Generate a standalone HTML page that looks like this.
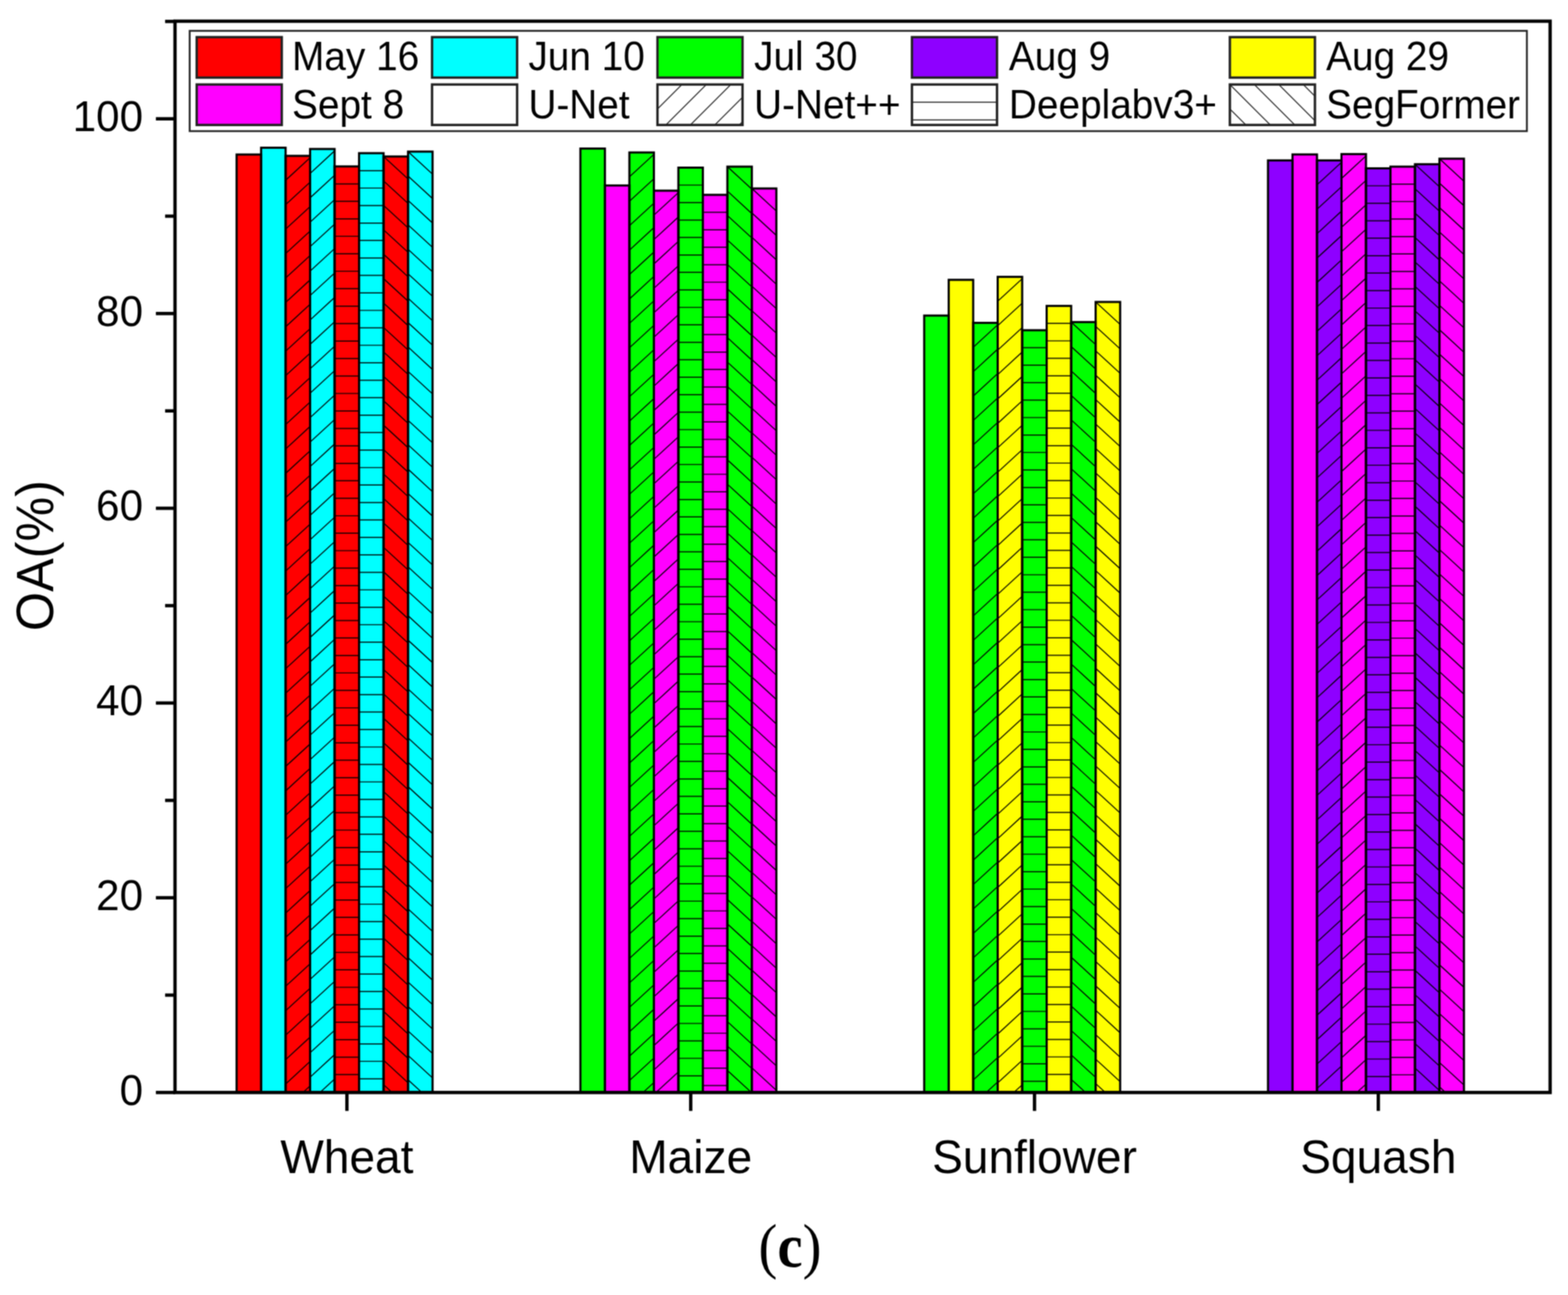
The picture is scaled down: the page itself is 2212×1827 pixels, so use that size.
<!DOCTYPE html>
<html><head><meta charset="utf-8"><title>OA chart</title>
<style>html,body{margin:0;padding:0;background:#fff;}svg{display:block;}</style>
</head><body>
<svg width="2212" height="1827" viewBox="0 0 2212 1827">
<defs><filter id="bl" x="0" y="0" width="2212" height="1827" filterUnits="userSpaceOnUse" color-interpolation-filters="sRGB"><feConvolveMatrix order="3" kernelMatrix="1 2 1 2 4 2 1 2 1" divisor="16" edgeMode="duplicate"/></filter></defs>
<g filter="url(#bl)">
<rect x="0" y="0" width="2212" height="1827" fill="#fff"/>
<rect x="333.80" y="218.00" width="34.55" height="1323.30" fill="#FF0000"/>
<rect x="368.35" y="208.40" width="34.55" height="1332.90" fill="#00FFFF"/>
<rect x="402.90" y="219.90" width="34.55" height="1321.40" fill="#FF0000"/>
<path d="M402.90 254.36L437.45 222.57M402.90 288.82L437.45 257.03M402.90 323.28L437.45 291.49M402.90 357.74L437.45 325.95M402.90 392.20L437.45 360.41M402.90 426.66L437.45 394.87M402.90 461.12L437.45 429.33M402.90 495.58L437.45 463.79M402.90 530.04L437.45 498.25M402.90 564.50L437.45 532.71M402.90 598.96L437.45 567.17M402.90 633.42L437.45 601.63M402.90 667.88L437.45 636.09M402.90 702.34L437.45 670.55M402.90 736.80L437.45 705.01M402.90 771.26L437.45 739.47M402.90 805.72L437.45 773.93M402.90 840.18L437.45 808.39M402.90 874.64L437.45 842.85M402.90 909.10L437.45 877.31M402.90 943.56L437.45 911.77M402.90 978.02L437.45 946.23M402.90 1012.48L437.45 980.69M402.90 1046.94L437.45 1015.15M402.90 1081.40L437.45 1049.61M402.90 1115.86L437.45 1084.07M402.90 1150.32L437.45 1118.53M402.90 1184.78L437.45 1152.99M402.90 1219.24L437.45 1187.45M402.90 1253.70L437.45 1221.91M402.90 1288.16L437.45 1256.37M402.90 1322.62L437.45 1290.83M402.90 1357.08L437.45 1325.29M402.90 1391.54L437.45 1359.75M402.90 1426.00L437.45 1394.21M402.90 1460.46L437.45 1428.67M402.90 1494.92L437.45 1463.13M402.90 1529.38L437.45 1497.59M427.40 1541.30L437.45 1532.05" stroke="#000" stroke-width="1.45" fill="none"/>
<rect x="437.45" y="210.20" width="34.55" height="1331.10" fill="#00FFFF"/>
<path d="M437.45 244.66L472.00 212.87M437.45 279.12L472.00 247.33M437.45 313.58L472.00 281.79M437.45 348.04L472.00 316.25M437.45 382.50L472.00 350.71M437.45 416.96L472.00 385.17M437.45 451.42L472.00 419.63M437.45 485.88L472.00 454.09M437.45 520.34L472.00 488.55M437.45 554.80L472.00 523.01M437.45 589.26L472.00 557.47M437.45 623.72L472.00 591.93M437.45 658.18L472.00 626.39M437.45 692.64L472.00 660.85M437.45 727.10L472.00 695.31M437.45 761.56L472.00 729.77M437.45 796.02L472.00 764.23M437.45 830.48L472.00 798.69M437.45 864.94L472.00 833.15M437.45 899.40L472.00 867.61M437.45 933.86L472.00 902.07M437.45 968.32L472.00 936.53M437.45 1002.78L472.00 970.99M437.45 1037.24L472.00 1005.45M437.45 1071.70L472.00 1039.91M437.45 1106.16L472.00 1074.37M437.45 1140.62L472.00 1108.83M437.45 1175.08L472.00 1143.29M437.45 1209.54L472.00 1177.75M437.45 1244.00L472.00 1212.21M437.45 1278.46L472.00 1246.67M437.45 1312.92L472.00 1281.13M437.45 1347.38L472.00 1315.59M437.45 1381.84L472.00 1350.05M437.45 1416.30L472.00 1384.51M437.45 1450.76L472.00 1418.97M437.45 1485.22L472.00 1453.43M437.45 1519.68L472.00 1487.89M451.41 1541.30L472.00 1522.35" stroke="#000" stroke-width="1.45" fill="none"/>
<rect x="472.00" y="234.80" width="34.55" height="1306.50" fill="#FF0000"/>
<path d="M472.00 259.44L506.55 259.44M472.00 284.08L506.55 284.08M472.00 308.72L506.55 308.72M472.00 333.36L506.55 333.36M472.00 358.00L506.55 358.00M472.00 382.64L506.55 382.64M472.00 407.28L506.55 407.28M472.00 431.92L506.55 431.92M472.00 456.56L506.55 456.56M472.00 481.20L506.55 481.20M472.00 505.84L506.55 505.84M472.00 530.48L506.55 530.48M472.00 555.12L506.55 555.12M472.00 579.76L506.55 579.76M472.00 604.40L506.55 604.40M472.00 629.04L506.55 629.04M472.00 653.68L506.55 653.68M472.00 678.32L506.55 678.32M472.00 702.96L506.55 702.96M472.00 727.60L506.55 727.60M472.00 752.24L506.55 752.24M472.00 776.88L506.55 776.88M472.00 801.52L506.55 801.52M472.00 826.16L506.55 826.16M472.00 850.80L506.55 850.80M472.00 875.44L506.55 875.44M472.00 900.08L506.55 900.08M472.00 924.72L506.55 924.72M472.00 949.36L506.55 949.36M472.00 974.00L506.55 974.00M472.00 998.64L506.55 998.64M472.00 1023.28L506.55 1023.28M472.00 1047.92L506.55 1047.92M472.00 1072.56L506.55 1072.56M472.00 1097.20L506.55 1097.20M472.00 1121.84L506.55 1121.84M472.00 1146.48L506.55 1146.48M472.00 1171.12L506.55 1171.12M472.00 1195.76L506.55 1195.76M472.00 1220.40L506.55 1220.40M472.00 1245.04L506.55 1245.04M472.00 1269.68L506.55 1269.68M472.00 1294.32L506.55 1294.32M472.00 1318.96L506.55 1318.96M472.00 1343.60L506.55 1343.60M472.00 1368.24L506.55 1368.24M472.00 1392.88L506.55 1392.88M472.00 1417.52L506.55 1417.52M472.00 1442.16L506.55 1442.16M472.00 1466.80L506.55 1466.80M472.00 1491.44L506.55 1491.44M472.00 1516.08L506.55 1516.08M472.00 1540.72L506.55 1540.72" stroke="#000" stroke-width="1.45" fill="none"/>
<rect x="506.55" y="216.10" width="34.55" height="1325.20" fill="#00FFFF"/>
<path d="M506.55 240.74L541.10 240.74M506.55 265.38L541.10 265.38M506.55 290.02L541.10 290.02M506.55 314.66L541.10 314.66M506.55 339.30L541.10 339.30M506.55 363.94L541.10 363.94M506.55 388.58L541.10 388.58M506.55 413.22L541.10 413.22M506.55 437.86L541.10 437.86M506.55 462.50L541.10 462.50M506.55 487.14L541.10 487.14M506.55 511.78L541.10 511.78M506.55 536.42L541.10 536.42M506.55 561.06L541.10 561.06M506.55 585.70L541.10 585.70M506.55 610.34L541.10 610.34M506.55 634.98L541.10 634.98M506.55 659.62L541.10 659.62M506.55 684.26L541.10 684.26M506.55 708.90L541.10 708.90M506.55 733.54L541.10 733.54M506.55 758.18L541.10 758.18M506.55 782.82L541.10 782.82M506.55 807.46L541.10 807.46M506.55 832.10L541.10 832.10M506.55 856.74L541.10 856.74M506.55 881.38L541.10 881.38M506.55 906.02L541.10 906.02M506.55 930.66L541.10 930.66M506.55 955.30L541.10 955.30M506.55 979.94L541.10 979.94M506.55 1004.58L541.10 1004.58M506.55 1029.22L541.10 1029.22M506.55 1053.86L541.10 1053.86M506.55 1078.50L541.10 1078.50M506.55 1103.14L541.10 1103.14M506.55 1127.78L541.10 1127.78M506.55 1152.42L541.10 1152.42M506.55 1177.06L541.10 1177.06M506.55 1201.70L541.10 1201.70M506.55 1226.34L541.10 1226.34M506.55 1250.98L541.10 1250.98M506.55 1275.62L541.10 1275.62M506.55 1300.26L541.10 1300.26M506.55 1324.90L541.10 1324.90M506.55 1349.54L541.10 1349.54M506.55 1374.18L541.10 1374.18M506.55 1398.82L541.10 1398.82M506.55 1423.46L541.10 1423.46M506.55 1448.10L541.10 1448.10M506.55 1472.74L541.10 1472.74M506.55 1497.38L541.10 1497.38M506.55 1522.02L541.10 1522.02" stroke="#000" stroke-width="1.45" fill="none"/>
<rect x="541.10" y="220.80" width="34.55" height="1320.50" fill="#FF0000"/>
<path d="M541.10 220.80L575.65 252.59M541.10 255.26L575.65 287.05M541.10 289.72L575.65 321.51M541.10 324.18L575.65 355.97M541.10 358.64L575.65 390.43M541.10 393.10L575.65 424.89M541.10 427.56L575.65 459.35M541.10 462.02L575.65 493.81M541.10 496.48L575.65 528.27M541.10 530.94L575.65 562.73M541.10 565.40L575.65 597.19M541.10 599.86L575.65 631.65M541.10 634.32L575.65 666.11M541.10 668.78L575.65 700.57M541.10 703.24L575.65 735.03M541.10 737.70L575.65 769.49M541.10 772.16L575.65 803.95M541.10 806.62L575.65 838.41M541.10 841.08L575.65 872.87M541.10 875.54L575.65 907.33M541.10 910.00L575.65 941.79M541.10 944.46L575.65 976.25M541.10 978.92L575.65 1010.71M541.10 1013.38L575.65 1045.17M541.10 1047.84L575.65 1079.63M541.10 1082.30L575.65 1114.09M541.10 1116.76L575.65 1148.55M541.10 1151.22L575.65 1183.01M541.10 1185.68L575.65 1217.47M541.10 1220.14L575.65 1251.93M541.10 1254.60L575.65 1286.39M541.10 1289.06L575.65 1320.85M541.10 1323.52L575.65 1355.31M541.10 1357.98L575.65 1389.77M541.10 1392.44L575.65 1424.23M541.10 1426.90L575.65 1458.69M541.10 1461.36L575.65 1493.15M541.10 1495.82L575.65 1527.61M541.10 1530.28L553.08 1541.30" stroke="#000" stroke-width="1.45" fill="none"/>
<rect x="575.65" y="213.90" width="34.55" height="1327.40" fill="#00FFFF"/>
<path d="M575.65 213.90L610.20 245.69M575.65 248.36L610.20 280.15M575.65 282.82L610.20 314.61M575.65 317.28L610.20 349.07M575.65 351.74L610.20 383.53M575.65 386.20L610.20 417.99M575.65 420.66L610.20 452.45M575.65 455.12L610.20 486.91M575.65 489.58L610.20 521.37M575.65 524.04L610.20 555.83M575.65 558.50L610.20 590.29M575.65 592.96L610.20 624.75M575.65 627.42L610.20 659.21M575.65 661.88L610.20 693.67M575.65 696.34L610.20 728.13M575.65 730.80L610.20 762.59M575.65 765.26L610.20 797.05M575.65 799.72L610.20 831.51M575.65 834.18L610.20 865.97M575.65 868.64L610.20 900.43M575.65 903.10L610.20 934.89M575.65 937.56L610.20 969.35M575.65 972.02L610.20 1003.81M575.65 1006.48L610.20 1038.27M575.65 1040.94L610.20 1072.73M575.65 1075.40L610.20 1107.19M575.65 1109.86L610.20 1141.65M575.65 1144.32L610.20 1176.11M575.65 1178.78L610.20 1210.57M575.65 1213.24L610.20 1245.03M575.65 1247.70L610.20 1279.49M575.65 1282.16L610.20 1313.95M575.65 1316.62L610.20 1348.41M575.65 1351.08L610.20 1382.87M575.65 1385.54L610.20 1417.33M575.65 1420.00L610.20 1451.79M575.65 1454.46L610.20 1486.25M575.65 1488.92L610.20 1520.71M575.65 1523.38L595.13 1541.30" stroke="#000" stroke-width="1.45" fill="none"/>
<rect x="333.80" y="218.00" width="34.55" height="1323.30" fill="none" stroke="#000" stroke-width="3.0"/>
<rect x="368.35" y="208.40" width="34.55" height="1332.90" fill="none" stroke="#000" stroke-width="3.0"/>
<rect x="402.90" y="219.90" width="34.55" height="1321.40" fill="none" stroke="#000" stroke-width="3.0"/>
<rect x="437.45" y="210.20" width="34.55" height="1331.10" fill="none" stroke="#000" stroke-width="3.0"/>
<rect x="472.00" y="234.80" width="34.55" height="1306.50" fill="none" stroke="#000" stroke-width="3.0"/>
<rect x="506.55" y="216.10" width="34.55" height="1325.20" fill="none" stroke="#000" stroke-width="3.0"/>
<rect x="541.10" y="220.80" width="34.55" height="1320.50" fill="none" stroke="#000" stroke-width="3.0"/>
<rect x="575.65" y="213.90" width="34.55" height="1327.40" fill="none" stroke="#000" stroke-width="3.0"/>
<rect x="818.80" y="209.60" width="34.55" height="1331.70" fill="#00FF00"/>
<rect x="853.35" y="261.70" width="34.55" height="1279.60" fill="#FF00FF"/>
<rect x="887.90" y="215.10" width="34.55" height="1326.20" fill="#00FF00"/>
<path d="M887.90 249.56L922.45 217.77M887.90 284.02L922.45 252.23M887.90 318.48L922.45 286.69M887.90 352.94L922.45 321.15M887.90 387.40L922.45 355.61M887.90 421.86L922.45 390.07M887.90 456.32L922.45 424.53M887.90 490.78L922.45 458.99M887.90 525.24L922.45 493.45M887.90 559.70L922.45 527.91M887.90 594.16L922.45 562.37M887.90 628.62L922.45 596.83M887.90 663.08L922.45 631.29M887.90 697.54L922.45 665.75M887.90 732.00L922.45 700.21M887.90 766.46L922.45 734.67M887.90 800.92L922.45 769.13M887.90 835.38L922.45 803.59M887.90 869.84L922.45 838.05M887.90 904.30L922.45 872.51M887.90 938.76L922.45 906.97M887.90 973.22L922.45 941.43M887.90 1007.68L922.45 975.89M887.90 1042.14L922.45 1010.35M887.90 1076.60L922.45 1044.81M887.90 1111.06L922.45 1079.27M887.90 1145.52L922.45 1113.73M887.90 1179.98L922.45 1148.19M887.90 1214.44L922.45 1182.65M887.90 1248.90L922.45 1217.11M887.90 1283.36L922.45 1251.57M887.90 1317.82L922.45 1286.03M887.90 1352.28L922.45 1320.49M887.90 1386.74L922.45 1354.95M887.90 1421.20L922.45 1389.41M887.90 1455.66L922.45 1423.87M887.90 1490.12L922.45 1458.33M887.90 1524.58L922.45 1492.79M907.18 1541.30L922.45 1527.25" stroke="#000" stroke-width="1.45" fill="none"/>
<rect x="922.45" y="269.00" width="34.55" height="1272.30" fill="#FF00FF"/>
<path d="M922.45 303.46L957.00 271.67M922.45 337.92L957.00 306.13M922.45 372.38L957.00 340.59M922.45 406.84L957.00 375.05M922.45 441.30L957.00 409.51M922.45 475.76L957.00 443.97M922.45 510.22L957.00 478.43M922.45 544.68L957.00 512.89M922.45 579.14L957.00 547.35M922.45 613.60L957.00 581.81M922.45 648.06L957.00 616.27M922.45 682.52L957.00 650.73M922.45 716.98L957.00 685.19M922.45 751.44L957.00 719.65M922.45 785.90L957.00 754.11M922.45 820.36L957.00 788.57M922.45 854.82L957.00 823.03M922.45 889.28L957.00 857.49M922.45 923.74L957.00 891.95M922.45 958.20L957.00 926.41M922.45 992.66L957.00 960.87M922.45 1027.12L957.00 995.33M922.45 1061.58L957.00 1029.79M922.45 1096.04L957.00 1064.25M922.45 1130.50L957.00 1098.71M922.45 1164.96L957.00 1133.17M922.45 1199.42L957.00 1167.63M922.45 1233.88L957.00 1202.09M922.45 1268.34L957.00 1236.55M922.45 1302.80L957.00 1271.01M922.45 1337.26L957.00 1305.47M922.45 1371.72L957.00 1339.93M922.45 1406.18L957.00 1374.39M922.45 1440.64L957.00 1408.85M922.45 1475.10L957.00 1443.31M922.45 1509.56L957.00 1477.77M925.41 1541.30L957.00 1512.23" stroke="#000" stroke-width="1.45" fill="none"/>
<rect x="957.00" y="236.50" width="34.55" height="1304.80" fill="#00FF00"/>
<path d="M957.00 261.14L991.55 261.14M957.00 285.78L991.55 285.78M957.00 310.42L991.55 310.42M957.00 335.06L991.55 335.06M957.00 359.70L991.55 359.70M957.00 384.34L991.55 384.34M957.00 408.98L991.55 408.98M957.00 433.62L991.55 433.62M957.00 458.26L991.55 458.26M957.00 482.90L991.55 482.90M957.00 507.54L991.55 507.54M957.00 532.18L991.55 532.18M957.00 556.82L991.55 556.82M957.00 581.46L991.55 581.46M957.00 606.10L991.55 606.10M957.00 630.74L991.55 630.74M957.00 655.38L991.55 655.38M957.00 680.02L991.55 680.02M957.00 704.66L991.55 704.66M957.00 729.30L991.55 729.30M957.00 753.94L991.55 753.94M957.00 778.58L991.55 778.58M957.00 803.22L991.55 803.22M957.00 827.86L991.55 827.86M957.00 852.50L991.55 852.50M957.00 877.14L991.55 877.14M957.00 901.78L991.55 901.78M957.00 926.42L991.55 926.42M957.00 951.06L991.55 951.06M957.00 975.70L991.55 975.70M957.00 1000.34L991.55 1000.34M957.00 1024.98L991.55 1024.98M957.00 1049.62L991.55 1049.62M957.00 1074.26L991.55 1074.26M957.00 1098.90L991.55 1098.90M957.00 1123.54L991.55 1123.54M957.00 1148.18L991.55 1148.18M957.00 1172.82L991.55 1172.82M957.00 1197.46L991.55 1197.46M957.00 1222.10L991.55 1222.10M957.00 1246.74L991.55 1246.74M957.00 1271.38L991.55 1271.38M957.00 1296.02L991.55 1296.02M957.00 1320.66L991.55 1320.66M957.00 1345.30L991.55 1345.30M957.00 1369.94L991.55 1369.94M957.00 1394.58L991.55 1394.58M957.00 1419.22L991.55 1419.22M957.00 1443.86L991.55 1443.86M957.00 1468.50L991.55 1468.50M957.00 1493.14L991.55 1493.14M957.00 1517.78L991.55 1517.78" stroke="#000" stroke-width="1.45" fill="none"/>
<rect x="991.55" y="274.90" width="34.55" height="1266.40" fill="#FF00FF"/>
<path d="M991.55 299.54L1026.10 299.54M991.55 324.18L1026.10 324.18M991.55 348.82L1026.10 348.82M991.55 373.46L1026.10 373.46M991.55 398.10L1026.10 398.10M991.55 422.74L1026.10 422.74M991.55 447.38L1026.10 447.38M991.55 472.02L1026.10 472.02M991.55 496.66L1026.10 496.66M991.55 521.30L1026.10 521.30M991.55 545.94L1026.10 545.94M991.55 570.58L1026.10 570.58M991.55 595.22L1026.10 595.22M991.55 619.86L1026.10 619.86M991.55 644.50L1026.10 644.50M991.55 669.14L1026.10 669.14M991.55 693.78L1026.10 693.78M991.55 718.42L1026.10 718.42M991.55 743.06L1026.10 743.06M991.55 767.70L1026.10 767.70M991.55 792.34L1026.10 792.34M991.55 816.98L1026.10 816.98M991.55 841.62L1026.10 841.62M991.55 866.26L1026.10 866.26M991.55 890.90L1026.10 890.90M991.55 915.54L1026.10 915.54M991.55 940.18L1026.10 940.18M991.55 964.82L1026.10 964.82M991.55 989.46L1026.10 989.46M991.55 1014.10L1026.10 1014.10M991.55 1038.74L1026.10 1038.74M991.55 1063.38L1026.10 1063.38M991.55 1088.02L1026.10 1088.02M991.55 1112.66L1026.10 1112.66M991.55 1137.30L1026.10 1137.30M991.55 1161.94L1026.10 1161.94M991.55 1186.58L1026.10 1186.58M991.55 1211.22L1026.10 1211.22M991.55 1235.86L1026.10 1235.86M991.55 1260.50L1026.10 1260.50M991.55 1285.14L1026.10 1285.14M991.55 1309.78L1026.10 1309.78M991.55 1334.42L1026.10 1334.42M991.55 1359.06L1026.10 1359.06M991.55 1383.70L1026.10 1383.70M991.55 1408.34L1026.10 1408.34M991.55 1432.98L1026.10 1432.98M991.55 1457.62L1026.10 1457.62M991.55 1482.26L1026.10 1482.26M991.55 1506.90L1026.10 1506.90M991.55 1531.54L1026.10 1531.54" stroke="#000" stroke-width="1.45" fill="none"/>
<rect x="1026.10" y="235.10" width="34.55" height="1306.20" fill="#00FF00"/>
<path d="M1026.10 235.10L1060.65 266.89M1026.10 269.56L1060.65 301.35M1026.10 304.02L1060.65 335.81M1026.10 338.48L1060.65 370.27M1026.10 372.94L1060.65 404.73M1026.10 407.40L1060.65 439.19M1026.10 441.86L1060.65 473.65M1026.10 476.32L1060.65 508.11M1026.10 510.78L1060.65 542.57M1026.10 545.24L1060.65 577.03M1026.10 579.70L1060.65 611.49M1026.10 614.16L1060.65 645.95M1026.10 648.62L1060.65 680.41M1026.10 683.08L1060.65 714.87M1026.10 717.54L1060.65 749.33M1026.10 752.00L1060.65 783.79M1026.10 786.46L1060.65 818.25M1026.10 820.92L1060.65 852.71M1026.10 855.38L1060.65 887.17M1026.10 889.84L1060.65 921.63M1026.10 924.30L1060.65 956.09M1026.10 958.76L1060.65 990.55M1026.10 993.22L1060.65 1025.01M1026.10 1027.68L1060.65 1059.47M1026.10 1062.14L1060.65 1093.93M1026.10 1096.60L1060.65 1128.39M1026.10 1131.06L1060.65 1162.85M1026.10 1165.52L1060.65 1197.31M1026.10 1199.98L1060.65 1231.77M1026.10 1234.44L1060.65 1266.23M1026.10 1268.90L1060.65 1300.69M1026.10 1303.36L1060.65 1335.15M1026.10 1337.82L1060.65 1369.61M1026.10 1372.28L1060.65 1404.07M1026.10 1406.74L1060.65 1438.53M1026.10 1441.20L1060.65 1472.99M1026.10 1475.66L1060.65 1507.45M1026.10 1510.12L1059.99 1541.30" stroke="#000" stroke-width="1.45" fill="none"/>
<rect x="1060.65" y="265.90" width="34.55" height="1275.40" fill="#FF00FF"/>
<path d="M1060.65 265.90L1095.20 297.69M1060.65 300.36L1095.20 332.15M1060.65 334.82L1095.20 366.61M1060.65 369.28L1095.20 401.07M1060.65 403.74L1095.20 435.53M1060.65 438.20L1095.20 469.99M1060.65 472.66L1095.20 504.45M1060.65 507.12L1095.20 538.91M1060.65 541.58L1095.20 573.37M1060.65 576.04L1095.20 607.83M1060.65 610.50L1095.20 642.29M1060.65 644.96L1095.20 676.75M1060.65 679.42L1095.20 711.21M1060.65 713.88L1095.20 745.67M1060.65 748.34L1095.20 780.13M1060.65 782.80L1095.20 814.59M1060.65 817.26L1095.20 849.05M1060.65 851.72L1095.20 883.51M1060.65 886.18L1095.20 917.97M1060.65 920.64L1095.20 952.43M1060.65 955.10L1095.20 986.89M1060.65 989.56L1095.20 1021.35M1060.65 1024.02L1095.20 1055.81M1060.65 1058.48L1095.20 1090.27M1060.65 1092.94L1095.20 1124.73M1060.65 1127.40L1095.20 1159.19M1060.65 1161.86L1095.20 1193.65M1060.65 1196.32L1095.20 1228.11M1060.65 1230.78L1095.20 1262.57M1060.65 1265.24L1095.20 1297.03M1060.65 1299.70L1095.20 1331.49M1060.65 1334.16L1095.20 1365.95M1060.65 1368.62L1095.20 1400.41M1060.65 1403.08L1095.20 1434.87M1060.65 1437.54L1095.20 1469.33M1060.65 1472.00L1095.20 1503.79M1060.65 1506.46L1095.20 1538.25M1060.65 1540.92L1061.06 1541.30" stroke="#000" stroke-width="1.45" fill="none"/>
<rect x="818.80" y="209.60" width="34.55" height="1331.70" fill="none" stroke="#000" stroke-width="3.0"/>
<rect x="853.35" y="261.70" width="34.55" height="1279.60" fill="none" stroke="#000" stroke-width="3.0"/>
<rect x="887.90" y="215.10" width="34.55" height="1326.20" fill="none" stroke="#000" stroke-width="3.0"/>
<rect x="922.45" y="269.00" width="34.55" height="1272.30" fill="none" stroke="#000" stroke-width="3.0"/>
<rect x="957.00" y="236.50" width="34.55" height="1304.80" fill="none" stroke="#000" stroke-width="3.0"/>
<rect x="991.55" y="274.90" width="34.55" height="1266.40" fill="none" stroke="#000" stroke-width="3.0"/>
<rect x="1026.10" y="235.10" width="34.55" height="1306.20" fill="none" stroke="#000" stroke-width="3.0"/>
<rect x="1060.65" y="265.90" width="34.55" height="1275.40" fill="none" stroke="#000" stroke-width="3.0"/>
<rect x="1303.80" y="445.20" width="34.55" height="1096.10" fill="#00FF00"/>
<rect x="1338.35" y="394.80" width="34.55" height="1146.50" fill="#FFFF00"/>
<rect x="1372.90" y="455.50" width="34.55" height="1085.80" fill="#00FF00"/>
<path d="M1372.90 489.96L1407.45 458.17M1372.90 524.42L1407.45 492.63M1372.90 558.88L1407.45 527.09M1372.90 593.34L1407.45 561.55M1372.90 627.80L1407.45 596.01M1372.90 662.26L1407.45 630.47M1372.90 696.72L1407.45 664.93M1372.90 731.18L1407.45 699.39M1372.90 765.64L1407.45 733.85M1372.90 800.10L1407.45 768.31M1372.90 834.56L1407.45 802.77M1372.90 869.02L1407.45 837.23M1372.90 903.48L1407.45 871.69M1372.90 937.94L1407.45 906.15M1372.90 972.40L1407.45 940.61M1372.90 1006.86L1407.45 975.07M1372.90 1041.32L1407.45 1009.53M1372.90 1075.78L1407.45 1043.99M1372.90 1110.24L1407.45 1078.45M1372.90 1144.70L1407.45 1112.91M1372.90 1179.16L1407.45 1147.37M1372.90 1213.62L1407.45 1181.83M1372.90 1248.08L1407.45 1216.29M1372.90 1282.54L1407.45 1250.75M1372.90 1317.00L1407.45 1285.21M1372.90 1351.46L1407.45 1319.67M1372.90 1385.92L1407.45 1354.13M1372.90 1420.38L1407.45 1388.59M1372.90 1454.84L1407.45 1423.05M1372.90 1489.30L1407.45 1457.51M1372.90 1523.76L1407.45 1491.97M1391.29 1541.30L1407.45 1526.43" stroke="#000" stroke-width="1.45" fill="none"/>
<rect x="1407.45" y="390.60" width="34.55" height="1150.70" fill="#FFFF00"/>
<path d="M1407.45 425.06L1442.00 393.27M1407.45 459.52L1442.00 427.73M1407.45 493.98L1442.00 462.19M1407.45 528.44L1442.00 496.65M1407.45 562.90L1442.00 531.11M1407.45 597.36L1442.00 565.57M1407.45 631.82L1442.00 600.03M1407.45 666.28L1442.00 634.49M1407.45 700.74L1442.00 668.95M1407.45 735.20L1442.00 703.41M1407.45 769.66L1442.00 737.87M1407.45 804.12L1442.00 772.33M1407.45 838.58L1442.00 806.79M1407.45 873.04L1442.00 841.25M1407.45 907.50L1442.00 875.71M1407.45 941.96L1442.00 910.17M1407.45 976.42L1442.00 944.63M1407.45 1010.88L1442.00 979.09M1407.45 1045.34L1442.00 1013.55M1407.45 1079.80L1442.00 1048.01M1407.45 1114.26L1442.00 1082.47M1407.45 1148.72L1442.00 1116.93M1407.45 1183.18L1442.00 1151.39M1407.45 1217.64L1442.00 1185.85M1407.45 1252.10L1442.00 1220.31M1407.45 1286.56L1442.00 1254.77M1407.45 1321.02L1442.00 1289.23M1407.45 1355.48L1442.00 1323.69M1407.45 1389.94L1442.00 1358.15M1407.45 1424.40L1442.00 1392.61M1407.45 1458.86L1442.00 1427.07M1407.45 1493.32L1442.00 1461.53M1407.45 1527.78L1442.00 1495.99M1430.21 1541.30L1442.00 1530.45" stroke="#000" stroke-width="1.45" fill="none"/>
<rect x="1442.00" y="465.90" width="34.55" height="1075.40" fill="#00FF00"/>
<path d="M1442.00 490.54L1476.55 490.54M1442.00 515.18L1476.55 515.18M1442.00 539.82L1476.55 539.82M1442.00 564.46L1476.55 564.46M1442.00 589.10L1476.55 589.10M1442.00 613.74L1476.55 613.74M1442.00 638.38L1476.55 638.38M1442.00 663.02L1476.55 663.02M1442.00 687.66L1476.55 687.66M1442.00 712.30L1476.55 712.30M1442.00 736.94L1476.55 736.94M1442.00 761.58L1476.55 761.58M1442.00 786.22L1476.55 786.22M1442.00 810.86L1476.55 810.86M1442.00 835.50L1476.55 835.50M1442.00 860.14L1476.55 860.14M1442.00 884.78L1476.55 884.78M1442.00 909.42L1476.55 909.42M1442.00 934.06L1476.55 934.06M1442.00 958.70L1476.55 958.70M1442.00 983.34L1476.55 983.34M1442.00 1007.98L1476.55 1007.98M1442.00 1032.62L1476.55 1032.62M1442.00 1057.26L1476.55 1057.26M1442.00 1081.90L1476.55 1081.90M1442.00 1106.54L1476.55 1106.54M1442.00 1131.18L1476.55 1131.18M1442.00 1155.82L1476.55 1155.82M1442.00 1180.46L1476.55 1180.46M1442.00 1205.10L1476.55 1205.10M1442.00 1229.74L1476.55 1229.74M1442.00 1254.38L1476.55 1254.38M1442.00 1279.02L1476.55 1279.02M1442.00 1303.66L1476.55 1303.66M1442.00 1328.30L1476.55 1328.30M1442.00 1352.94L1476.55 1352.94M1442.00 1377.58L1476.55 1377.58M1442.00 1402.22L1476.55 1402.22M1442.00 1426.86L1476.55 1426.86M1442.00 1451.50L1476.55 1451.50M1442.00 1476.14L1476.55 1476.14M1442.00 1500.78L1476.55 1500.78M1442.00 1525.42L1476.55 1525.42" stroke="#000" stroke-width="1.45" fill="none"/>
<rect x="1476.55" y="431.60" width="34.55" height="1109.70" fill="#FFFF00"/>
<path d="M1476.55 456.24L1511.10 456.24M1476.55 480.88L1511.10 480.88M1476.55 505.52L1511.10 505.52M1476.55 530.16L1511.10 530.16M1476.55 554.80L1511.10 554.80M1476.55 579.44L1511.10 579.44M1476.55 604.08L1511.10 604.08M1476.55 628.72L1511.10 628.72M1476.55 653.36L1511.10 653.36M1476.55 678.00L1511.10 678.00M1476.55 702.64L1511.10 702.64M1476.55 727.28L1511.10 727.28M1476.55 751.92L1511.10 751.92M1476.55 776.56L1511.10 776.56M1476.55 801.20L1511.10 801.20M1476.55 825.84L1511.10 825.84M1476.55 850.48L1511.10 850.48M1476.55 875.12L1511.10 875.12M1476.55 899.76L1511.10 899.76M1476.55 924.40L1511.10 924.40M1476.55 949.04L1511.10 949.04M1476.55 973.68L1511.10 973.68M1476.55 998.32L1511.10 998.32M1476.55 1022.96L1511.10 1022.96M1476.55 1047.60L1511.10 1047.60M1476.55 1072.24L1511.10 1072.24M1476.55 1096.88L1511.10 1096.88M1476.55 1121.52L1511.10 1121.52M1476.55 1146.16L1511.10 1146.16M1476.55 1170.80L1511.10 1170.80M1476.55 1195.44L1511.10 1195.44M1476.55 1220.08L1511.10 1220.08M1476.55 1244.72L1511.10 1244.72M1476.55 1269.36L1511.10 1269.36M1476.55 1294.00L1511.10 1294.00M1476.55 1318.64L1511.10 1318.64M1476.55 1343.28L1511.10 1343.28M1476.55 1367.92L1511.10 1367.92M1476.55 1392.56L1511.10 1392.56M1476.55 1417.20L1511.10 1417.20M1476.55 1441.84L1511.10 1441.84M1476.55 1466.48L1511.10 1466.48M1476.55 1491.12L1511.10 1491.12M1476.55 1515.76L1511.10 1515.76M1476.55 1540.40L1511.10 1540.40" stroke="#000" stroke-width="1.45" fill="none"/>
<rect x="1511.10" y="454.40" width="34.55" height="1086.90" fill="#00FF00"/>
<path d="M1511.10 454.40L1545.65 486.19M1511.10 488.86L1545.65 520.65M1511.10 523.32L1545.65 555.11M1511.10 557.78L1545.65 589.57M1511.10 592.24L1545.65 624.03M1511.10 626.70L1545.65 658.49M1511.10 661.16L1545.65 692.95M1511.10 695.62L1545.65 727.41M1511.10 730.08L1545.65 761.87M1511.10 764.54L1545.65 796.33M1511.10 799.00L1545.65 830.79M1511.10 833.46L1545.65 865.25M1511.10 867.92L1545.65 899.71M1511.10 902.38L1545.65 934.17M1511.10 936.84L1545.65 968.63M1511.10 971.30L1545.65 1003.09M1511.10 1005.76L1545.65 1037.55M1511.10 1040.22L1545.65 1072.01M1511.10 1074.68L1545.65 1106.47M1511.10 1109.14L1545.65 1140.93M1511.10 1143.60L1545.65 1175.39M1511.10 1178.06L1545.65 1209.85M1511.10 1212.52L1545.65 1244.31M1511.10 1246.98L1545.65 1278.77M1511.10 1281.44L1545.65 1313.23M1511.10 1315.90L1545.65 1347.69M1511.10 1350.36L1545.65 1382.15M1511.10 1384.82L1545.65 1416.61M1511.10 1419.28L1545.65 1451.07M1511.10 1453.74L1545.65 1485.53M1511.10 1488.20L1545.65 1519.99M1511.10 1522.66L1531.36 1541.30" stroke="#000" stroke-width="1.45" fill="none"/>
<rect x="1545.65" y="426.00" width="34.55" height="1115.30" fill="#FFFF00"/>
<path d="M1545.65 426.00L1580.20 457.79M1545.65 460.46L1580.20 492.25M1545.65 494.92L1580.20 526.71M1545.65 529.38L1580.20 561.17M1545.65 563.84L1580.20 595.63M1545.65 598.30L1580.20 630.09M1545.65 632.76L1580.20 664.55M1545.65 667.22L1580.20 699.01M1545.65 701.68L1580.20 733.47M1545.65 736.14L1580.20 767.93M1545.65 770.60L1580.20 802.39M1545.65 805.06L1580.20 836.85M1545.65 839.52L1580.20 871.31M1545.65 873.98L1580.20 905.77M1545.65 908.44L1580.20 940.23M1545.65 942.90L1580.20 974.69M1545.65 977.36L1580.20 1009.15M1545.65 1011.82L1580.20 1043.61M1545.65 1046.28L1580.20 1078.07M1545.65 1080.74L1580.20 1112.53M1545.65 1115.20L1580.20 1146.99M1545.65 1149.66L1580.20 1181.45M1545.65 1184.12L1580.20 1215.91M1545.65 1218.58L1580.20 1250.37M1545.65 1253.04L1580.20 1284.83M1545.65 1287.50L1580.20 1319.29M1545.65 1321.96L1580.20 1353.75M1545.65 1356.42L1580.20 1388.21M1545.65 1390.88L1580.20 1422.67M1545.65 1425.34L1580.20 1457.13M1545.65 1459.80L1580.20 1491.59M1545.65 1494.26L1580.20 1526.05M1545.65 1528.72L1559.32 1541.30" stroke="#000" stroke-width="1.45" fill="none"/>
<rect x="1303.80" y="445.20" width="34.55" height="1096.10" fill="none" stroke="#000" stroke-width="3.0"/>
<rect x="1338.35" y="394.80" width="34.55" height="1146.50" fill="none" stroke="#000" stroke-width="3.0"/>
<rect x="1372.90" y="455.50" width="34.55" height="1085.80" fill="none" stroke="#000" stroke-width="3.0"/>
<rect x="1407.45" y="390.60" width="34.55" height="1150.70" fill="none" stroke="#000" stroke-width="3.0"/>
<rect x="1442.00" y="465.90" width="34.55" height="1075.40" fill="none" stroke="#000" stroke-width="3.0"/>
<rect x="1476.55" y="431.60" width="34.55" height="1109.70" fill="none" stroke="#000" stroke-width="3.0"/>
<rect x="1511.10" y="454.40" width="34.55" height="1086.90" fill="none" stroke="#000" stroke-width="3.0"/>
<rect x="1545.65" y="426.00" width="34.55" height="1115.30" fill="none" stroke="#000" stroke-width="3.0"/>
<rect x="1788.80" y="226.30" width="34.55" height="1315.00" fill="#8E00FF"/>
<rect x="1823.35" y="217.90" width="34.55" height="1323.40" fill="#FF00FF"/>
<rect x="1857.90" y="226.30" width="34.55" height="1315.00" fill="#8E00FF"/>
<path d="M1857.90 260.76L1892.45 228.97M1857.90 295.22L1892.45 263.43M1857.90 329.68L1892.45 297.89M1857.90 364.14L1892.45 332.35M1857.90 398.60L1892.45 366.81M1857.90 433.06L1892.45 401.27M1857.90 467.52L1892.45 435.73M1857.90 501.98L1892.45 470.19M1857.90 536.44L1892.45 504.65M1857.90 570.90L1892.45 539.11M1857.90 605.36L1892.45 573.57M1857.90 639.82L1892.45 608.03M1857.90 674.28L1892.45 642.49M1857.90 708.74L1892.45 676.95M1857.90 743.20L1892.45 711.41M1857.90 777.66L1892.45 745.87M1857.90 812.12L1892.45 780.33M1857.90 846.58L1892.45 814.79M1857.90 881.04L1892.45 849.25M1857.90 915.50L1892.45 883.71M1857.90 949.96L1892.45 918.17M1857.90 984.42L1892.45 952.63M1857.90 1018.88L1892.45 987.09M1857.90 1053.34L1892.45 1021.55M1857.90 1087.80L1892.45 1056.01M1857.90 1122.26L1892.45 1090.47M1857.90 1156.72L1892.45 1124.93M1857.90 1191.18L1892.45 1159.39M1857.90 1225.64L1892.45 1193.85M1857.90 1260.10L1892.45 1228.31M1857.90 1294.56L1892.45 1262.77M1857.90 1329.02L1892.45 1297.23M1857.90 1363.48L1892.45 1331.69M1857.90 1397.94L1892.45 1366.15M1857.90 1432.40L1892.45 1400.61M1857.90 1466.86L1892.45 1435.07M1857.90 1501.32L1892.45 1469.53M1857.90 1535.78L1892.45 1503.99M1889.36 1541.30L1892.45 1538.45" stroke="#000" stroke-width="1.45" fill="none"/>
<rect x="1892.45" y="217.40" width="34.55" height="1323.90" fill="#FF00FF"/>
<path d="M1892.45 251.86L1927.00 220.07M1892.45 286.32L1927.00 254.53M1892.45 320.78L1927.00 288.99M1892.45 355.24L1927.00 323.45M1892.45 389.70L1927.00 357.91M1892.45 424.16L1927.00 392.37M1892.45 458.62L1927.00 426.83M1892.45 493.08L1927.00 461.29M1892.45 527.54L1927.00 495.75M1892.45 562.00L1927.00 530.21M1892.45 596.46L1927.00 564.67M1892.45 630.92L1927.00 599.13M1892.45 665.38L1927.00 633.59M1892.45 699.84L1927.00 668.05M1892.45 734.30L1927.00 702.51M1892.45 768.76L1927.00 736.97M1892.45 803.22L1927.00 771.43M1892.45 837.68L1927.00 805.89M1892.45 872.14L1927.00 840.35M1892.45 906.60L1927.00 874.81M1892.45 941.06L1927.00 909.27M1892.45 975.52L1927.00 943.73M1892.45 1009.98L1927.00 978.19M1892.45 1044.44L1927.00 1012.65M1892.45 1078.90L1927.00 1047.11M1892.45 1113.36L1927.00 1081.57M1892.45 1147.82L1927.00 1116.03M1892.45 1182.28L1927.00 1150.49M1892.45 1216.74L1927.00 1184.95M1892.45 1251.20L1927.00 1219.41M1892.45 1285.66L1927.00 1253.87M1892.45 1320.12L1927.00 1288.33M1892.45 1354.58L1927.00 1322.79M1892.45 1389.04L1927.00 1357.25M1892.45 1423.50L1927.00 1391.71M1892.45 1457.96L1927.00 1426.17M1892.45 1492.42L1927.00 1460.63M1892.45 1526.88L1927.00 1495.09M1914.23 1541.30L1927.00 1529.55" stroke="#000" stroke-width="1.45" fill="none"/>
<rect x="1927.00" y="237.50" width="34.55" height="1303.80" fill="#8E00FF"/>
<path d="M1927.00 262.14L1961.55 262.14M1927.00 286.78L1961.55 286.78M1927.00 311.42L1961.55 311.42M1927.00 336.06L1961.55 336.06M1927.00 360.70L1961.55 360.70M1927.00 385.34L1961.55 385.34M1927.00 409.98L1961.55 409.98M1927.00 434.62L1961.55 434.62M1927.00 459.26L1961.55 459.26M1927.00 483.90L1961.55 483.90M1927.00 508.54L1961.55 508.54M1927.00 533.18L1961.55 533.18M1927.00 557.82L1961.55 557.82M1927.00 582.46L1961.55 582.46M1927.00 607.10L1961.55 607.10M1927.00 631.74L1961.55 631.74M1927.00 656.38L1961.55 656.38M1927.00 681.02L1961.55 681.02M1927.00 705.66L1961.55 705.66M1927.00 730.30L1961.55 730.30M1927.00 754.94L1961.55 754.94M1927.00 779.58L1961.55 779.58M1927.00 804.22L1961.55 804.22M1927.00 828.86L1961.55 828.86M1927.00 853.50L1961.55 853.50M1927.00 878.14L1961.55 878.14M1927.00 902.78L1961.55 902.78M1927.00 927.42L1961.55 927.42M1927.00 952.06L1961.55 952.06M1927.00 976.70L1961.55 976.70M1927.00 1001.34L1961.55 1001.34M1927.00 1025.98L1961.55 1025.98M1927.00 1050.62L1961.55 1050.62M1927.00 1075.26L1961.55 1075.26M1927.00 1099.90L1961.55 1099.90M1927.00 1124.54L1961.55 1124.54M1927.00 1149.18L1961.55 1149.18M1927.00 1173.82L1961.55 1173.82M1927.00 1198.46L1961.55 1198.46M1927.00 1223.10L1961.55 1223.10M1927.00 1247.74L1961.55 1247.74M1927.00 1272.38L1961.55 1272.38M1927.00 1297.02L1961.55 1297.02M1927.00 1321.66L1961.55 1321.66M1927.00 1346.30L1961.55 1346.30M1927.00 1370.94L1961.55 1370.94M1927.00 1395.58L1961.55 1395.58M1927.00 1420.22L1961.55 1420.22M1927.00 1444.86L1961.55 1444.86M1927.00 1469.50L1961.55 1469.50M1927.00 1494.14L1961.55 1494.14M1927.00 1518.78L1961.55 1518.78" stroke="#000" stroke-width="1.45" fill="none"/>
<rect x="1961.55" y="235.10" width="34.55" height="1306.20" fill="#FF00FF"/>
<path d="M1961.55 259.74L1996.10 259.74M1961.55 284.38L1996.10 284.38M1961.55 309.02L1996.10 309.02M1961.55 333.66L1996.10 333.66M1961.55 358.30L1996.10 358.30M1961.55 382.94L1996.10 382.94M1961.55 407.58L1996.10 407.58M1961.55 432.22L1996.10 432.22M1961.55 456.86L1996.10 456.86M1961.55 481.50L1996.10 481.50M1961.55 506.14L1996.10 506.14M1961.55 530.78L1996.10 530.78M1961.55 555.42L1996.10 555.42M1961.55 580.06L1996.10 580.06M1961.55 604.70L1996.10 604.70M1961.55 629.34L1996.10 629.34M1961.55 653.98L1996.10 653.98M1961.55 678.62L1996.10 678.62M1961.55 703.26L1996.10 703.26M1961.55 727.90L1996.10 727.90M1961.55 752.54L1996.10 752.54M1961.55 777.18L1996.10 777.18M1961.55 801.82L1996.10 801.82M1961.55 826.46L1996.10 826.46M1961.55 851.10L1996.10 851.10M1961.55 875.74L1996.10 875.74M1961.55 900.38L1996.10 900.38M1961.55 925.02L1996.10 925.02M1961.55 949.66L1996.10 949.66M1961.55 974.30L1996.10 974.30M1961.55 998.94L1996.10 998.94M1961.55 1023.58L1996.10 1023.58M1961.55 1048.22L1996.10 1048.22M1961.55 1072.86L1996.10 1072.86M1961.55 1097.50L1996.10 1097.50M1961.55 1122.14L1996.10 1122.14M1961.55 1146.78L1996.10 1146.78M1961.55 1171.42L1996.10 1171.42M1961.55 1196.06L1996.10 1196.06M1961.55 1220.70L1996.10 1220.70M1961.55 1245.34L1996.10 1245.34M1961.55 1269.98L1996.10 1269.98M1961.55 1294.62L1996.10 1294.62M1961.55 1319.26L1996.10 1319.26M1961.55 1343.90L1996.10 1343.90M1961.55 1368.54L1996.10 1368.54M1961.55 1393.18L1996.10 1393.18M1961.55 1417.82L1996.10 1417.82M1961.55 1442.46L1996.10 1442.46M1961.55 1467.10L1996.10 1467.10M1961.55 1491.74L1996.10 1491.74M1961.55 1516.38L1996.10 1516.38" stroke="#000" stroke-width="1.45" fill="none"/>
<rect x="1996.10" y="231.70" width="34.55" height="1309.60" fill="#8E00FF"/>
<path d="M1996.10 231.70L2030.65 263.49M1996.10 266.16L2030.65 297.95M1996.10 300.62L2030.65 332.41M1996.10 335.08L2030.65 366.87M1996.10 369.54L2030.65 401.33M1996.10 404.00L2030.65 435.79M1996.10 438.46L2030.65 470.25M1996.10 472.92L2030.65 504.71M1996.10 507.38L2030.65 539.17M1996.10 541.84L2030.65 573.63M1996.10 576.30L2030.65 608.09M1996.10 610.76L2030.65 642.55M1996.10 645.22L2030.65 677.01M1996.10 679.68L2030.65 711.47M1996.10 714.14L2030.65 745.93M1996.10 748.60L2030.65 780.39M1996.10 783.06L2030.65 814.85M1996.10 817.52L2030.65 849.31M1996.10 851.98L2030.65 883.77M1996.10 886.44L2030.65 918.23M1996.10 920.90L2030.65 952.69M1996.10 955.36L2030.65 987.15M1996.10 989.82L2030.65 1021.61M1996.10 1024.28L2030.65 1056.07M1996.10 1058.74L2030.65 1090.53M1996.10 1093.20L2030.65 1124.99M1996.10 1127.66L2030.65 1159.45M1996.10 1162.12L2030.65 1193.91M1996.10 1196.58L2030.65 1228.37M1996.10 1231.04L2030.65 1262.83M1996.10 1265.50L2030.65 1297.29M1996.10 1299.96L2030.65 1331.75M1996.10 1334.42L2030.65 1366.21M1996.10 1368.88L2030.65 1400.67M1996.10 1403.34L2030.65 1435.13M1996.10 1437.80L2030.65 1469.59M1996.10 1472.26L2030.65 1504.05M1996.10 1506.72L2030.65 1538.51M1996.10 1541.18L1996.23 1541.30" stroke="#000" stroke-width="1.45" fill="none"/>
<rect x="2030.65" y="223.90" width="34.55" height="1317.40" fill="#FF00FF"/>
<path d="M2030.65 223.90L2065.20 255.69M2030.65 258.36L2065.20 290.15M2030.65 292.82L2065.20 324.61M2030.65 327.28L2065.20 359.07M2030.65 361.74L2065.20 393.53M2030.65 396.20L2065.20 427.99M2030.65 430.66L2065.20 462.45M2030.65 465.12L2065.20 496.91M2030.65 499.58L2065.20 531.37M2030.65 534.04L2065.20 565.83M2030.65 568.50L2065.20 600.29M2030.65 602.96L2065.20 634.75M2030.65 637.42L2065.20 669.21M2030.65 671.88L2065.20 703.67M2030.65 706.34L2065.20 738.13M2030.65 740.80L2065.20 772.59M2030.65 775.26L2065.20 807.05M2030.65 809.72L2065.20 841.51M2030.65 844.18L2065.20 875.97M2030.65 878.64L2065.20 910.43M2030.65 913.10L2065.20 944.89M2030.65 947.56L2065.20 979.35M2030.65 982.02L2065.20 1013.81M2030.65 1016.48L2065.20 1048.27M2030.65 1050.94L2065.20 1082.73M2030.65 1085.40L2065.20 1117.19M2030.65 1119.86L2065.20 1151.65M2030.65 1154.32L2065.20 1186.11M2030.65 1188.78L2065.20 1220.57M2030.65 1223.24L2065.20 1255.03M2030.65 1257.70L2065.20 1289.49M2030.65 1292.16L2065.20 1323.95M2030.65 1326.62L2065.20 1358.41M2030.65 1361.08L2065.20 1392.87M2030.65 1395.54L2065.20 1427.33M2030.65 1430.00L2065.20 1461.79M2030.65 1464.46L2065.20 1496.25M2030.65 1498.92L2065.20 1530.71M2030.65 1533.38L2039.26 1541.30" stroke="#000" stroke-width="1.45" fill="none"/>
<rect x="1788.80" y="226.30" width="34.55" height="1315.00" fill="none" stroke="#000" stroke-width="3.0"/>
<rect x="1823.35" y="217.90" width="34.55" height="1323.40" fill="none" stroke="#000" stroke-width="3.0"/>
<rect x="1857.90" y="226.30" width="34.55" height="1315.00" fill="none" stroke="#000" stroke-width="3.0"/>
<rect x="1892.45" y="217.40" width="34.55" height="1323.90" fill="none" stroke="#000" stroke-width="3.0"/>
<rect x="1927.00" y="237.50" width="34.55" height="1303.80" fill="none" stroke="#000" stroke-width="3.0"/>
<rect x="1961.55" y="235.10" width="34.55" height="1306.20" fill="none" stroke="#000" stroke-width="3.0"/>
<rect x="1996.10" y="231.70" width="34.55" height="1309.60" fill="none" stroke="#000" stroke-width="3.0"/>
<rect x="2030.65" y="223.90" width="34.55" height="1317.40" fill="none" stroke="#000" stroke-width="3.0"/>
<rect x="246.9" y="29.9" width="1939.90" height="1511.40" fill="none" stroke="#000" stroke-width="4.7"/>
<line x1="219.90" y1="1541.30" x2="246.90" y2="1541.30" stroke="#000" stroke-width="4.7"/>
<line x1="232.90" y1="1403.93" x2="246.90" y2="1403.93" stroke="#000" stroke-width="4.7"/>
<line x1="219.90" y1="1266.56" x2="246.90" y2="1266.56" stroke="#000" stroke-width="4.7"/>
<line x1="232.90" y1="1129.19" x2="246.90" y2="1129.19" stroke="#000" stroke-width="4.7"/>
<line x1="219.90" y1="991.82" x2="246.90" y2="991.82" stroke="#000" stroke-width="4.7"/>
<line x1="232.90" y1="854.45" x2="246.90" y2="854.45" stroke="#000" stroke-width="4.7"/>
<line x1="219.90" y1="717.08" x2="246.90" y2="717.08" stroke="#000" stroke-width="4.7"/>
<line x1="232.90" y1="579.71" x2="246.90" y2="579.71" stroke="#000" stroke-width="4.7"/>
<line x1="219.90" y1="442.34" x2="246.90" y2="442.34" stroke="#000" stroke-width="4.7"/>
<line x1="232.90" y1="304.97" x2="246.90" y2="304.97" stroke="#000" stroke-width="4.7"/>
<line x1="219.90" y1="167.60" x2="246.90" y2="167.60" stroke="#000" stroke-width="4.7"/>
<line x1="232.90" y1="30.23" x2="246.90" y2="30.23" stroke="#000" stroke-width="4.7"/>
<line x1="489.40" y1="1541.30" x2="489.40" y2="1567.30" stroke="#000" stroke-width="4.7"/>
<line x1="974.40" y1="1541.30" x2="974.40" y2="1567.30" stroke="#000" stroke-width="4.7"/>
<line x1="1459.40" y1="1541.30" x2="1459.40" y2="1567.30" stroke="#000" stroke-width="4.7"/>
<line x1="1944.40" y1="1541.30" x2="1944.40" y2="1567.30" stroke="#000" stroke-width="4.7"/>
<text transform="translate(201.80 1558.60) scale(1.0 1.04)" font-family="Liberation Sans, Arial, sans-serif" font-size="59.5" text-anchor="end">0</text>
<text transform="translate(201.80 1283.86) scale(1.0 1.04)" font-family="Liberation Sans, Arial, sans-serif" font-size="59.5" text-anchor="end">20</text>
<text transform="translate(201.80 1009.12) scale(1.0 1.04)" font-family="Liberation Sans, Arial, sans-serif" font-size="59.5" text-anchor="end">40</text>
<text transform="translate(201.80 734.38) scale(1.0 1.04)" font-family="Liberation Sans, Arial, sans-serif" font-size="59.5" text-anchor="end">60</text>
<text transform="translate(201.80 459.64) scale(1.0 1.04)" font-family="Liberation Sans, Arial, sans-serif" font-size="59.5" text-anchor="end">80</text>
<text transform="translate(201.80 184.90) scale(1.0 1.04)" font-family="Liberation Sans, Arial, sans-serif" font-size="59.5" text-anchor="end">100</text>
<text transform="translate(489.40 1654.70) scale(1.0 1.02)" font-family="Liberation Sans, Arial, sans-serif" font-size="65.0" text-anchor="middle">Wheat</text>
<text transform="translate(974.40 1654.70) scale(1.0 1.02)" font-family="Liberation Sans, Arial, sans-serif" font-size="65.0" text-anchor="middle">Maize</text>
<text transform="translate(1459.40 1654.70) scale(1.0 1.02)" font-family="Liberation Sans, Arial, sans-serif" font-size="65.0" text-anchor="middle">Sunflower</text>
<text transform="translate(1944.40 1654.70) scale(1.0 1.02)" font-family="Liberation Sans, Arial, sans-serif" font-size="65.0" text-anchor="middle">Squash</text>
<text transform="translate(74.50 783.80) rotate(-90) scale(1.0 1.046)" font-family="Liberation Sans, Arial, sans-serif" font-size="71" text-anchor="middle">OA(%)</text>
<text transform="translate(1114.5 1787) scale(0.93 1)" font-family="Liberation Serif, Times New Roman, serif" font-size="86" text-anchor="middle">(<tspan font-weight="bold">c</tspan>)</text>
<rect x="267.6" y="43.5" width="1886.4" height="141.5" fill="#fff" stroke="#222" stroke-width="2.6"/>
<rect x="277.5" y="52.4" width="120.0" height="57.1" fill="#FF0000"/>
<rect x="277.5" y="52.4" width="120.0" height="57.1" fill="none" stroke="#222" stroke-width="3.4"/>
<text transform="translate(412.00 99.00) scale(1.0 1.054)" font-family="Liberation Sans, Arial, sans-serif" font-size="54.7">May 16</text>
<rect x="609.5" y="52.4" width="120.0" height="57.1" fill="#00FFFF"/>
<rect x="609.5" y="52.4" width="120.0" height="57.1" fill="none" stroke="#222" stroke-width="3.4"/>
<text transform="translate(745.40 99.00) scale(1.0 1.054)" font-family="Liberation Sans, Arial, sans-serif" font-size="54.7">Jun 10</text>
<rect x="927.5" y="52.4" width="120.0" height="57.1" fill="#00FF00"/>
<rect x="927.5" y="52.4" width="120.0" height="57.1" fill="none" stroke="#222" stroke-width="3.4"/>
<text transform="translate(1063.80 99.00) scale(1.0 1.054)" font-family="Liberation Sans, Arial, sans-serif" font-size="54.7">Jul 30</text>
<rect x="1286.5" y="52.4" width="120.0" height="57.1" fill="#8E00FF"/>
<rect x="1286.5" y="52.4" width="120.0" height="57.1" fill="none" stroke="#222" stroke-width="3.4"/>
<text transform="translate(1423.30 99.00) scale(1.0 1.054)" font-family="Liberation Sans, Arial, sans-serif" font-size="54.7">Aug 9</text>
<rect x="1735.0" y="52.4" width="120.0" height="57.1" fill="#FFFF00"/>
<rect x="1735.0" y="52.4" width="120.0" height="57.1" fill="none" stroke="#222" stroke-width="3.4"/>
<text transform="translate(1870.80 99.00) scale(1.0 1.054)" font-family="Liberation Sans, Arial, sans-serif" font-size="54.7">Aug 29</text>
<rect x="277.5" y="119.2" width="120.0" height="57.1" fill="#FF00FF"/>
<rect x="277.5" y="119.2" width="120.0" height="57.1" fill="none" stroke="#222" stroke-width="3.4"/>
<text transform="translate(412.00 166.60) scale(1.0 1.054)" font-family="Liberation Sans, Arial, sans-serif" font-size="54.7">Sept 8</text>
<rect x="609.5" y="119.2" width="120.0" height="57.1" fill="#fff"/>
<rect x="609.5" y="119.2" width="120.0" height="57.1" fill="none" stroke="#222" stroke-width="3.4"/>
<text transform="translate(745.40 166.60) scale(1.0 1.054)" font-family="Liberation Sans, Arial, sans-serif" font-size="54.7">U-Net</text>
<rect x="927.5" y="119.2" width="120.0" height="57.1" fill="#fff"/>
<path d="M962.00 119.20L927.50 153.70M996.50 119.20L939.40 176.30M1031.00 119.20L973.90 176.30M1047.50 137.20L1008.40 176.30M1047.50 171.70L1042.90 176.30" stroke="#222" stroke-width="1.45" fill="none"/>
<rect x="927.5" y="119.2" width="120.0" height="57.1" fill="none" stroke="#222" stroke-width="3.4"/>
<text transform="translate(1063.80 166.60) scale(1.0 1.054)" font-family="Liberation Sans, Arial, sans-serif" font-size="54.7">U-Net++</text>
<rect x="1286.5" y="119.2" width="120.0" height="57.1" fill="#fff"/>
<path d="M1286.50 144.20L1406.50 144.20M1286.50 169.20L1406.50 169.20" stroke="#222" stroke-width="1.45" fill="none"/>
<rect x="1286.5" y="119.2" width="120.0" height="57.1" fill="none" stroke="#222" stroke-width="3.4"/>
<text transform="translate(1423.30 166.60) scale(1.0 1.054)" font-family="Liberation Sans, Arial, sans-serif" font-size="54.7">Deeplabv3+</text>
<rect x="1735.0" y="119.2" width="120.0" height="57.1" fill="#fff"/>
<path d="M1735.00 153.70L1757.60 176.30M1735.00 119.20L1792.10 176.30M1769.50 119.20L1826.60 176.30M1804.00 119.20L1855.00 170.20M1838.50 119.20L1855.00 135.70" stroke="#222" stroke-width="1.45" fill="none"/>
<rect x="1735.0" y="119.2" width="120.0" height="57.1" fill="none" stroke="#222" stroke-width="3.4"/>
<text transform="translate(1870.80 166.60) scale(1.0 1.054)" font-family="Liberation Sans, Arial, sans-serif" font-size="54.7">SegFormer</text>
</g>
</svg>
</body></html>
